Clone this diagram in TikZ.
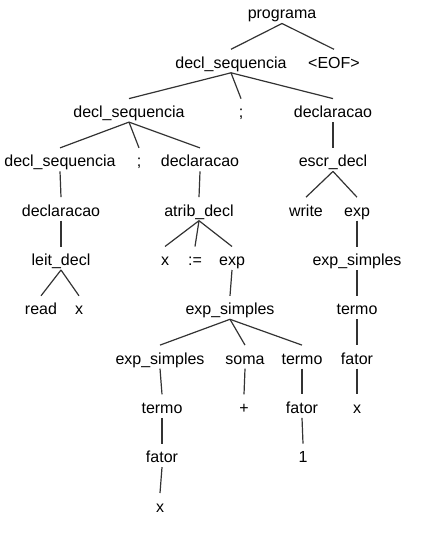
\documentclass[tikz,border=0pt]{standalone}
\usepackage{fontspec}
\setmainfont{Liberation Sans}
\usepackage{tikz}
\usetikzlibrary{positioning}

\begin{document}
\begin{tikzpicture}[
      x=1bp,y=-1bp,
      sym/.style={anchor=base,inner xsep=0pt,inner ysep=1bp,outer sep=0pt,
                  text height=18bp,text depth=3.5bp,
                  font=\fontsize{16bp}{19bp}\selectfont},
      edge/.style={draw=black!80,line width=1.2bp},
    ]
    \useasboundingbox (0,0) rectangle (438,538);

    % levels 0-2
    \node[sym] (prog)  at (282,19)    {programa};
    \node[sym] (ds1)   at (231,68.3)  {decl\_sequencia};
    \node[sym] (eof)   at (334,68.3)  {<EOF>};
    \node[sym] (ds2)   at (129,117.6) {decl\_sequencia};
    \node[sym] (semi1) at (241,117.6) {;};
    \node[sym] (dcl1)  at (333,117.6) {declaracao};

    % levels 3-4
    \node[sym] (ds3)   at (60,166.9)  {decl\_sequencia};
    \node[sym] (semi2) at (139,166.9) {;};
    \node[sym] (dcl2)  at (200,166.9) {declaracao};
    \node[sym] (escr)  at (333,166.9) {escr\_decl};
    \node[sym] (dcl3)  at (61,216.2)  {declaracao};
    \node[sym] (atrib) at (199,216.2) {atrib\_decl};
    \node[sym] (wr)    at (306,216.2) {write};
    \node[sym] (exp1)  at (357,216.2) {exp};

    % levels 5-6
    \node[sym] (leit)  at (61,265.5)  {leit\_decl};
    \node[sym] (xa)    at (165,265.5) {x};
    \node[sym] (asg)   at (195,265.5) {:=};
    \node[sym] (exp2)  at (232,265.5) {exp};
    \node[sym] (es1)   at (357,265.5) {exp\_simples};
    \node[sym] (rd)    at (41,314.8)  {read};
    \node[sym] (xb)    at (79,314.8)  {x};
    \node[sym] (es2)   at (230,314.8) {exp\_simples};
    \node[sym] (tm1)   at (357,314.8) {termo};

    % levels 7-10
    \node[sym] (es3)   at (160,364.1) {exp\_simples};
    \node[sym] (soma)  at (245,364.1) {soma};
    \node[sym] (tm2)   at (302,364.1) {termo};
    \node[sym] (ft1)   at (357,364.1) {fator};
    \node[sym] (tm3)   at (162,413.4) {termo};
    \node[sym] (plus)  at (244,413.4) {+};
    \node[sym] (ft2)   at (302,413.4) {fator};
    \node[sym] (xc)    at (357,413.4) {x};
    \node[sym] (ft3)   at (162,462.7) {fator};
    \node[sym] (one)   at (303,462.7) {1};
    \node[sym] (xd)    at (160,512)   {x};

    % Edges
    \foreach \p/\c in {prog/ds1,prog/eof,ds1/ds2,ds1/semi1,ds1/dcl1,
                       ds2/ds3,ds2/semi2,ds2/dcl2,dcl1/escr,
                       ds3/dcl3,dcl2/atrib,escr/wr,escr/exp1,
                       dcl3/leit,atrib/xa,atrib/asg,atrib/exp2,exp1/es1,
                       leit/rd,leit/xb,exp2/es2,es1/tm1,
                       es2/es3,es2/soma,es2/tm2,tm1/ft1,
                       es3/tm3,soma/plus,tm2/ft2,ft1/xc,
                       tm3/ft3,ft2/one,ft3/xd}
      \draw[edge] (\p.south) -- (\c.north);

  \end{tikzpicture}
\end{document}
